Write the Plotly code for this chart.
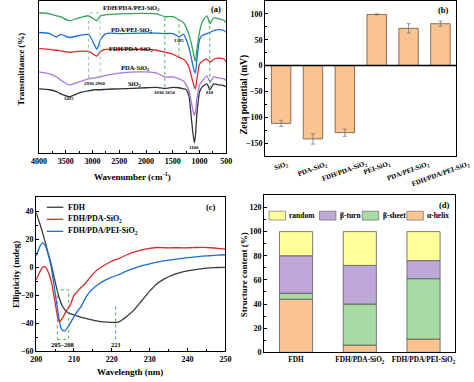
import plotly.graph_objects as go

W, H = 474, 382
FONT = "Liberation Serif"


def px(x):
    return x / W


def py(y):
    return 1 - y / H


# ---------------- (a) FTIR data ----------------
wn = [4000, 3800, 3674, 3600, 3435, 3250, 3075, 2960, 2920, 2850, 2750, 2500, 2000, 1800,
      1650, 1500, 1385, 1300, 1250, 1200, 1150, 1100, 1080, 1050, 1000, 950, 863, 808, 735,
      650, 540, 500]
ftir_names = ["SiO2", "PDA-SiO2", "FDH/PDA-SiO2", "PDA/PEI-SiO2", "FDH/PDA/PEI-SiO2"]
t_sio2 = [41.5, 40.9, 39.6, 38.3, 36.3, 38.9, 40.2, 40.9, 40.9, 40.9, 41.2, 41.5, 42.2, 42.5,
          41.8, 42.5, 42.2, 41.5, 40.9, 37.0, 20.7, 6.0, 10.0, 25.3, 39.6, 42.8, 44.8, 40.9,
          44.8, 44.1, 43.5, 42.8]
t_pda = [52.6, 51.3, 49.3, 47.4, 44.1, 46.1, 48.0, 48.7, 49.0, 49.3, 50.3, 51.9, 52.6, 51.9,
         49.3, 49.3, 48.0, 46.7, 44.1, 40.2, 31.8, 24.0, 25.9, 35.0, 44.1, 46.7, 50.0, 46.1,
         49.3, 48.7, 48.0, 46.7]
t_fdh_pda = [68.2, 67.5, 66.9, 66.5, 65.6, 66.2, 66.2, 63.6, 63.0, 66.2, 67.5, 67.5, 67.5, 66.9,
             65.6, 64.3, 62.3, 61.0, 59.1, 55.8, 49.3, 42.8, 41.5, 48.0, 57.8, 59.7, 61.0, 59.1,
             61.0, 61.7, 61.0, 59.1]
t_pda_pei = [78.6, 77.9, 75.6, 77.3, 75.3, 76.6, 77.3, 70.1, 67.5, 74.0, 77.9, 77.9, 78.2, 78.2,
             77.9, 77.9, 75.9, 77.3, 74.0, 68.8, 61.0, 53.2, 51.9, 61.0, 74.0, 76.6, 77.9, 78.6,
             79.9, 80.5, 79.9, 78.6]
t_fdh_pda_pei = [91.6, 90.9, 89.6, 89.0, 86.4, 88.3, 89.6, 87.0, 86.4, 89.6, 90.3, 90.9, 91.2, 90.9,
                 89.0, 89.0, 87.0, 85.0, 81.8, 77.3, 70.8, 62.3, 59.7, 67.5, 79.2, 85.7, 89.6, 84.4,
                 88.3, 87.7, 86.4, 85.0]
ftir_series = [t_sio2, t_pda, t_fdh_pda, t_pda_pei, t_fdh_pda_pei]
ftir_colors = ["#333333", "#A678DE", "#E3262B", "#1C6FDB", "#36A457"]
ftir_labels = ["SiO<sub>2</sub>", "PDA-SiO<sub>2</sub>", "FDH/PDA-SiO<sub>2</sub>",
               "PDA/PEI-SiO<sub>2</sub>", "FDH/PDA/PEI-SiO<sub>2</sub>"]
ftir_label_pos = [(2223, 44.6), (2196, 55.2), (2268, 67.5), (2268, 80.5), (2277, 94.8)]
ftir_peaks = ["3435", "2930-2960", "1630-1650", "1385", "1100", "810"]
ftir_peak_pos = [(3435, 35.0), (2960, 44.8), (1650, 38.9), (1385, 73.4), (1100, 3.0), (810, 38.9)]

# ---------------- (b) zeta potential ----------------
zeta_cats = ["SiO<sub>2</sub>", "PDA-SiO<sub>2</sub>", "FDH/PDA-SiO<sub>2</sub>",
             "PEI-SiO<sub>2</sub>", "PDA/PEI-SiO<sub>2</sub>", "FDH/PDA/PEI-SiO<sub>2</sub>"]
zeta_vals = [-112, -142, -130, 99, 72, 81]
zeta_err = [6, 10, 7, 1, 9, 5]

# ---------------- (c) CD spectra ----------------
wl_fdh = [200, 201, 202, 203, 204, 205, 206, 207, 208, 209, 210, 212, 214, 216, 218, 220, 221,
          222, 223, 224, 226, 228, 230, 232, 234, 236, 238, 240, 242, 244, 246, 248, 250]
cd_fdh = [39, 31, 22, 12, 2, -10, -21, -28, -31.5, -33, -34, -35.8, -37, -38.2, -39, -39.3, -39.4,
          -38.8, -37, -35, -30, -23.5, -17, -11.5, -8, -5.5, -3.8, -2.5, -1.6, -0.9, -0.4, -0.1, 0]
wl_fdh_pda = [200, 201, 202, 202.5, 203, 204, 205, 205.8, 206.2, 207, 208, 209, 210, 211, 212, 213,
              214, 216, 218, 220, 222, 224, 226, 228, 230, 232, 234, 236, 238, 240, 242, 244,
              246, 248, 250]
cd_fdh_pda = [-9, -3, 0.5, 0.3, -2, -10, -25, -37, -39, -36, -31, -27, -20, -17, -14, -11.5,
              -8, -2, 1.5, 4.5, 6.5, 9, 11, 12.5, 13.5, 14.2, 14, 14, 14, 14, 14.2, 14.3,
              14, 13.6, 13]
wl_fdh_pda_pei = [200, 201, 201.7, 202.5, 203, 204, 205, 206, 206.5, 207, 207.5, 208, 209, 210, 211,
                  212, 213, 214, 216, 218, 220, 222, 224, 226, 228, 230, 232, 234, 236, 238, 240,
                  242, 244, 246, 248, 250]
cd_fdh_pda_pei = [8, 15, 17.5, 15, 11, 0, -18, -36, -43, -45, -45.5, -44, -40, -35, -31, -27.5,
                  -22, -18, -13, -9.5, -7, -5, -2.5, -0.5, 1.3, 2.5, 3.8, 4.8, 5.5, 6.2, 7, 7.5,
                  8, 8.3, 8.8, 9]
cd_names = ["FDH", "FDH/PDA-SiO<sub>2</sub>", "FDH/PDA/PEI-SiO<sub>2</sub>"]
cd_colors = ["#3a3a3a", "#E3262B", "#1C6FDB"]

# ---------------- (d) secondary structure ----------------
ss_cats = ["FDH", "FDH/PDA-SiO<sub>2</sub>", "FDH/PDA/PEI-SiO<sub>2</sub>"]
ss_names = ["α-helix", "β-sheet", "β-turn", "random"]
ss_vals = [
    [44, 6, 11],    # α-helix
    [5, 34, 50],    # β-sheet
    [31, 32, 15],   # β-turn
    [20, 28, 24],   # random
]
ss_colors = ["#F9C490", "#A8DBA3", "#BDA8D8", "#FFFF99"]

fig = go.Figure()

# (a)
for name, ys, col in zip(ftir_names, ftir_series, ftir_colors):
    fig.add_trace(go.Scatter(x=wn, y=ys, mode="lines", name=name, showlegend=False,
                             line=dict(color=col, width=1.3, shape="spline", smoothing=0.6),
                             xaxis="x", yaxis="y"))

# (b)
fig.add_trace(go.Bar(x=list(range(len(zeta_vals))), y=zeta_vals, width=0.61, showlegend=False,
                     marker=dict(color="#F9C490", line=dict(color="#6a5040", width=0.8)),
                     error_y=dict(type="data", array=zeta_err, color="#777777", thickness=0.8, width=2),
                     xaxis="x2", yaxis="y2"))

# (c)
for wl, cd, name, col in zip([wl_fdh, wl_fdh_pda, wl_fdh_pda_pei],
                             [cd_fdh, cd_fdh_pda, cd_fdh_pda_pei], cd_names, cd_colors):
    fig.add_trace(go.Scatter(x=wl, y=cd, mode="lines", name=name, showlegend=False,
                             line=dict(color=col, width=1.3, shape="spline", smoothing=0.5),
                             xaxis="x3", yaxis="y3"))

# (d)
for name, vals, col in zip(ss_names, ss_vals, ss_colors):
    fig.add_trace(go.Bar(x=list(range(len(ss_cats))), y=vals, name=name, width=0.52, showlegend=False,
                         marker=dict(color=col, line=dict(color="#5a5a5a", width=0.8)),
                         xaxis="x4", yaxis="y4"))

tickfont = dict(family=FONT, size=8, color="black", weight="bold")
common = dict(showline=True, linecolor="black", linewidth=1.2, mirror=True, showgrid=False,
              zeroline=False, ticklen=3, tickwidth=1, tickcolor="black")
minor = lambda d: dict(dtick=d, ticks="inside", ticklen=2, tickcolor="black")

fig.update_layout(
    width=W, height=H, margin=dict(l=0, r=0, t=0, b=0),
    paper_bgcolor="white", plot_bgcolor="white", barmode="relative", showlegend=False,
    font=dict(family=FONT, color="black"),
    xaxis=dict(domain=[px(32), px(225)], range=[4000, 500],
               tickvals=[4000, 3500, 3000, 2500, 2000, 1500, 1000, 500], tickfont=tickfont,
               ticks="inside", minor=minor(250), anchor="y", **common),
    yaxis=dict(domain=[py(155), py(1)], range=[-0.75, 99.35], showticklabels=False, anchor="x",
               ticks="", **common),
    xaxis2=dict(domain=[px(265), px(462)], range=[-0.5, 5.5], showticklabels=False, anchor="y2",
                ticks="", **common),
    yaxis2=dict(domain=[py(158), py(1)], range=[-175, 125], tickvals=[-150, -100, -50, 0, 50, 100],
                tickfont=tickfont, ticks="inside", minor=minor(25), anchor="x2", **common),
    xaxis3=dict(domain=[px(29), px(224)], range=[200, 250], tickvals=[200, 210, 220, 230, 240, 250],
                tickfont=tickfont, ticks="inside", minor=minor(5), anchor="y3", **common),
    yaxis3=dict(domain=[py(356), py(200)], range=[-60, 50], tickvals=[-60, -40, -20, 0, 20, 40],
                tickfont=tickfont, ticks="inside", minor=minor(10), anchor="x3", **common),
    xaxis4=dict(domain=[px(264), px(461)], range=[-0.5, 2.5], tickvals=[0, 1, 2], ticktext=ss_cats,
                tickangle=0, tickfont=dict(family=FONT, size=7.3, color="black", weight="bold"),
                ticks="", anchor="y4", **common),
    yaxis4=dict(domain=[py(357), py(198)], range=[0, 130], tickvals=[0, 20, 40, 60, 80, 100, 120],
                tickfont=tickfont, ticks="inside", minor=minor(10), anchor="x4", **common),
)

# zero line for (b)
fig.add_shape(type="line", xref="x2 domain", yref="y2", x0=0, x1=1, y0=0, y1=0,
              line=dict(color="black", width=1.6))

ann = []
shapes = []
lab_font = dict(family=FONT, size=6.5, color="black")
small_font = dict(family=FONT, size=4.8, color="black")
title_font = dict(family=FONT, size=9, color="black")


def note(x, y, text, font, xref="paper", yref="paper", xanchor="center", yanchor="middle", angle=0):
    ann.append(dict(x=x, y=y, xref=xref, yref=yref, text=text, showarrow=False, font=font,
                    xanchor=xanchor, yanchor=yanchor, textangle=angle))


# (a) annotations
for (x, y), t in zip(ftir_label_pos, ftir_labels):
    note(x, y, "<b>%s</b>" % t, lab_font, "x", "y")
for (x, y), t in zip(ftir_peak_pos, ftir_peaks):
    note(x, y, "<b>%s</b>" % t, small_font, "x", "y")
note(px(214), py(9), "<b>(a)</b>", dict(family=FONT, size=8.5))
dash_col = "#3f9f4f"
shapes.append(dict(type="rect", xref="x", yref="y", x0=3075, x1=2858, y0=48.7, y1=91.5,
                   line=dict(color="#8fbf8f", width=0.9, dash="dot")))
for x, y0, y1 in [(1650, 42.8, 88.3), (1385, 62.3, 87.0), (810, 41.5, 88.3)]:
    shapes.append(dict(type="line", xref="x", yref="y", x0=x, x1=x, y0=y0, y1=y1,
                       line=dict(color=dash_col, width=0.9, dash="dot")))
note(px(13), py(70), "<b>Transmittance (%)</b>", title_font, angle=-90)
note(px(128), py(178), "<b>Wavenumber (cm<sup>-1</sup>)</b>", title_font)

# (b) annotations
for i, c in enumerate(zeta_cats):
    note(i, py(159), "<b>%s</b>" % c, dict(family=FONT, size=7), "x2", "paper",
         yanchor="top", angle=-20)
note(px(449), py(10), "<b>(b)</b>", dict(family=FONT, size=8.5))
note(px(244), py(96), "<b><i>Z</i>eta potential (mV)</b>", dict(family=FONT, size=9.5), angle=-90)

# (c) annotations
shapes.append(dict(type="rect", xref="x3", yref="y3", x0=205.6, x1=208.6, y0=-51.5, y1=-16,
                   line=dict(color=dash_col, width=0.9, dash="dot")))
shapes.append(dict(type="line", xref="x3", yref="y3", x0=221, x1=221, y0=-51.5, y1=-27.5,
                   line=dict(color=dash_col, width=0.9, dash="dot")))
note(207, -55.3, "<b>205–208</b>", dict(family=FONT, size=6.5), "x3", "y3")
note(221, -55.3, "<b>221</b>", dict(family=FONT, size=6.5), "x3", "y3")
note(px(209), py(210), "<b>(c)</b>", dict(family=FONT, size=8.5))
for i, (name, col) in enumerate(zip(cd_names, cd_colors)):
    yy = 210 + 12.2 * i
    shapes.append(dict(type="line", xref="paper", yref="paper", x0=px(40), x1=px(57), y0=py(yy), y1=py(yy),
                       line=dict(color=col, width=1.3)))
    note(px(60), py(yy), "<b>%s</b>" % name, dict(family=FONT, size=8), xanchor="left")
note(px(9), py(278), "<b>Ellipticity (mdeg)</b>", title_font, angle=-90)
note(px(126), py(377), "<b>Wavelength (nm)</b>", title_font)

# (d) annotations / legend
note(px(450), py(208), "<b>(d)</b>", dict(family=FONT, size=8.5))
leg_x = [269, 321, 365, 411]
for i, idx in enumerate([3, 2, 1, 0]):
    x0 = leg_x[i]
    shapes.append(dict(type="rect", xref="paper", yref="paper", x0=px(x0), x1=px(x0 + 17),
                       y0=py(223), y1=py(214), fillcolor=ss_colors[idx],
                       line=dict(color="#5a5a5a", width=0.6)))
    note(px(x0 + 19), py(218.5), "<b>%s</b>" % ss_names[idx], dict(family=FONT, size=7.5), xanchor="left")
note(px(244), py(278), "<b>Structure content (%)</b>", title_font, angle=-90)

fig.update_layout(annotations=ann, shapes=fig.layout.shapes + tuple(shapes))

fig.write_html("out.html", config={"displayModeBar": False},
               post_script="document.body.style.margin='0';")
